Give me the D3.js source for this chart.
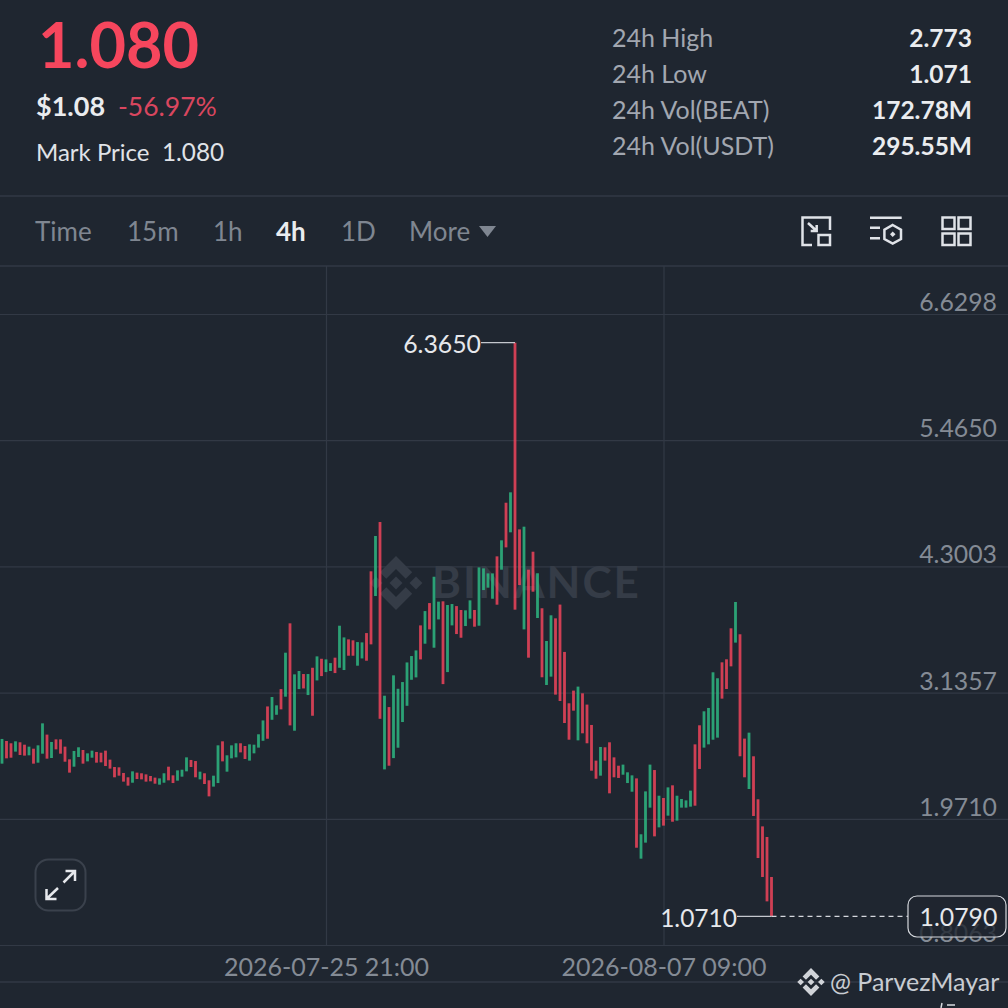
<!DOCTYPE html>
<html>
<head>
<meta charset="utf-8">
<script src="https://cdn.jsdelivr.net/npm/d3@7"></script>
<style>
  html, body { margin: 0; padding: 0; background: #1f2630; }
  svg { display: block; }
  text { font-family: Lato, "Open Sans", sans-serif; }
</style>
</head>
<body>
<div id="chart"></div>
<script>
// candle highs, lows and direction (4h candles, left to right)
var highs = [
  2.708, 2.689, 2.668, 2.686, 2.677, 2.655, 2.637, 2.618, 2.649, 2.852,
  2.748, 2.680, 2.704, 2.704, 2.637, 2.520, 2.597, 2.631, 2.606, 2.575,
  2.600, 2.588, 2.581, 2.600, 2.517, 2.449, 2.446, 2.394, 2.354, 2.409,
  2.397, 2.391, 2.381, 2.366, 2.351, 2.344, 2.391, 2.452, 2.372, 2.418,
  2.424, 2.538, 2.514, 2.504, 2.406, 2.391, 2.326, 2.369, 2.649, 2.686,
  2.557, 2.649, 2.668, 2.668, 2.643, 2.658, 2.655, 2.751, 2.879, 3.008,
  3.095, 3.018, 3.168, 3.504, 3.775, 3.304, 3.335, 3.307, 3.307, 3.365,
  3.470, 3.448, 3.442, 3.408, 3.458, 3.753, 3.645, 3.627, 3.618, 3.602,
  3.599, 3.685, 4.255, 4.581, 4.710, 3.107, 3.002, 3.295, 3.171, 3.233,
  3.414, 3.473, 3.525, 3.756, 3.888, 3.962, 4.205, 3.975, 3.978, 3.944,
  3.953, 3.934, 3.898, 3.895, 3.987, 3.898, 4.291, 4.282, 4.236, 4.236,
  4.393, 4.541, 4.888, 4.984, 6.365, 4.642, 4.667, 4.270, 4.436, 4.237,
  3.914, 3.612, 3.849, 3.821, 3.948, 3.511, 3.037, 3.154, 3.191, 3.129,
  3.025, 2.837, 2.508, 2.634, 2.631, 2.677, 2.538, 2.461, 2.471, 2.400,
  2.372, 2.344, 1.828, 2.224, 2.471, 2.421, 2.184, 2.163, 2.261, 2.280,
  2.184, 2.154, 2.141, 2.231, 2.658, 2.834, 2.963, 2.994, 3.323, 3.268,
  3.415, 3.443, 3.729, 3.972, 3.674, 2.711, 2.766, 2.548, 2.151, 1.901,
  1.803, 1.434
];
var lows = [
  2.480, 2.529, 2.535, 2.591, 2.560, 2.554, 2.557, 2.480, 2.489, 2.572,
  2.526, 2.532, 2.612, 2.572, 2.498, 2.397, 2.452, 2.541, 2.480, 2.501,
  2.535, 2.489, 2.492, 2.458, 2.434, 2.354, 2.369, 2.314, 2.277, 2.304,
  2.338, 2.335, 2.314, 2.317, 2.295, 2.286, 2.304, 2.326, 2.301, 2.323,
  2.360, 2.409, 2.449, 2.354, 2.335, 2.292, 2.178, 2.268, 2.301, 2.501,
  2.406, 2.529, 2.538, 2.584, 2.523, 2.508, 2.575, 2.628, 2.691, 2.710,
  2.885, 2.931, 2.981, 3.098, 2.833, 2.784, 3.168, 3.174, 3.113, 2.922,
  3.248, 3.288, 3.325, 3.335, 3.316, 3.365, 3.344, 3.476, 3.476, 3.384,
  3.451, 3.430, 3.581, 4.027, 2.894, 2.427, 2.461, 2.531, 2.627, 2.864,
  3.014, 3.254, 3.276, 3.442, 3.587, 3.719, 3.550, 3.811, 3.214, 3.325,
  3.756, 3.676, 3.642, 3.750, 3.818, 3.744, 3.753, 4.082, 4.104, 4.002,
  3.947, 4.270, 4.476, 4.615, 3.901, 4.128, 3.719, 3.458, 4.067, 3.824,
  3.277, 3.206, 3.283, 3.117, 3.058, 2.855, 2.701, 2.969, 2.695, 2.760,
  2.668, 2.415, 2.341, 2.369, 2.508, 2.206, 2.354, 2.348, 2.378, 2.301,
  2.221, 1.704, 1.603, 1.751, 2.074, 1.809, 1.892, 1.908, 2.000, 1.944,
  1.954, 2.074, 2.074, 2.083, 2.092, 2.431, 2.628, 2.658, 2.701, 2.720,
  3.080, 3.169, 3.378, 3.597, 2.548, 2.354, 2.246, 1.997, 1.609, 1.434,
  1.209, 1.071
];
var dirs = ("GRRGRRGRGGRGRRRRGGRGGRRRRRRRRGRRRRRGGRRGGGRRGRRGGRGGGRRGGG" +
            "GRGGRGRGGRGRGRGGRGGRRGGRRGRGRGGGGGGRGRGGRGGRRGGRGGGGRGRGRR" +
            "GRRGRGGRRRRRGRRRRGRRRRGGGRGGGRGRGRGGGGRRGGGGRRRGRRGRR").split("");

var yTicks = [6.6298, 5.4650, 4.3003, 3.1357, 1.9710, 0.8063];
var xTickIndex = [72, 147];
var xTickLabels = ["2026-07-25 21:00", "2026-08-07 09:00"];

var statLabels = ["24h High", "24h Low", "24h Vol(BEAT)", "24h Vol(USDT)"];
var statValues = ["2.773", "1.071", "172.78M", "295.55M"];
var tabs = ["Time", "15m", "1h", "4h", "1D", "More"];
var tabX = [35, 127, 213, 276, 341, 409];

var highIndex = 114, lowIndex = 171;
var highPrice = 6.3650, lowPrice = 1.0710, lastPrice = 1.0790;

var bg = "#1f2630", lineColor = "#323945", up = "#2ebd85", down = "#f6465d";

var svg = d3.select("#chart").append("svg")
  .attr("width", 1008)
  .attr("height", 1008);

var x = d3.scaleLinear().domain([0, 171]).range([2, 771.5]);
var y = d3.scaleLinear().domain([0.8063, 6.6298]).range([945, 314]);

// header separators
[196, 266, 982].forEach(function(v) {
  svg.append("line").attr("x1", 0).attr("x2", 1008).attr("y1", v).attr("y2", v)
    .attr("stroke", lineColor).attr("stroke-width", 1.5);
});

// price and time grid via the axes
var yAxis = d3.axisLeft(y).tickValues(yTicks).tickSize(1008)
  .tickFormat(d3.format(".4f"));
var gy = svg.append("g").attr("transform", "translate(1008,0)").call(yAxis);
gy.select(".domain").remove();
gy.selectAll(".tick line").attr("stroke", lineColor).attr("stroke-width", 1.2);
gy.selectAll(".tick text")
  .attr("x", -11).attr("dy", 0)
  .attr("fill", "#848b95").attr("font-size", 24.8)
  .style("font-family", "Lato")
  .attr("y", -3.5);

var xAxis = d3.axisBottom(x).tickValues(xTickIndex).tickSize(-679)
  .tickFormat(function(d, i) { return xTickLabels[i]; });
var gx = svg.append("g").attr("transform", "translate(0,945)").call(xAxis);
gx.select(".domain").remove();
gx.selectAll(".tick line").attr("stroke", lineColor).attr("stroke-width", 1.2);
gx.selectAll(".tick text")
  .attr("y", 31).attr("dy", 0)
  .attr("fill", "#848b95").attr("font-size", 25)
  .style("font-family", "Lato");

// binance mark
function logo(parent, cx, cy, r, color) {
  var g = parent.append("g").attr("transform", "translate(" + cx + "," + cy + ") scale(" + r + ")")
    .attr("fill", color);
  g.append("path").attr("d", "M0,-1 L.6,-.4 L.36,-.16 L0,-.52 L-.36,-.16 L-.6,-.4Z");
  g.append("path").attr("d", "M0,1 L.6,.4 L.36,.16 L0,.52 L-.36,.16 L-.6,.4Z");
  g.append("path").attr("d", "M0,-.24 L.24,0 L0,.24 L-.24,0Z");
  g.append("path").attr("d", "M.74,-.24 L.98,0 L.74,.24 L.5,0Z");
  g.append("path").attr("d", "M-.74,-.24 L-.5,0 L-.74,.24 L-.98,0Z");
}
logo(svg, 396, 583, 27, "#353c47");
svg.append("text").attr("x", 432).attr("y", 598).attr("fill", "#353c47")
  .attr("font-size", 44).attr("font-weight", 700).attr("letter-spacing", 2).text("BINANCE");

// candles
svg.append("g").selectAll("rect")
  .data(highs)
  .join("rect")
    .attr("x", function(d, i) { return x(i) - 1.4; })
    .attr("y", function(d) { return y(d); })
    .attr("width", 2.8)
    .attr("height", function(d, i) { return y(lows[i]) - y(d); })
    .attr("fill", function(d, i) { return dirs[i] == "G" ? up : down; })
    .attr("opacity", 0.82);

// high / low callouts
svg.append("line").attr("x1", 481).attr("x2", x(highIndex)).attr("y1", y(highPrice)).attr("y2", y(highPrice))
  .attr("stroke", "#c4c8ce").attr("stroke-width", 1.2);
svg.append("text").attr("x", 481).attr("y", y(highPrice) + 10).attr("text-anchor", "end")
  .attr("fill", "#e6e8ec").attr("font-size", 24.8).text(highPrice.toFixed(4));
svg.append("line").attr("x1", 737).attr("x2", x(lowIndex)).attr("y1", y(lowPrice)).attr("y2", y(lowPrice))
  .attr("stroke", "#c4c8ce").attr("stroke-width", 1.2);
svg.append("text").attr("x", 737).attr("y", y(lowPrice) + 10.5).attr("text-anchor", "end")
  .attr("fill", "#e6e8ec").attr("font-size", 24.5).text(lowPrice.toFixed(4));

// last price line and box
svg.append("line").attr("x1", x(lowIndex)).attr("x2", 908).attr("y1", y(lowPrice)).attr("y2", y(lowPrice))
  .attr("stroke", "#d5d8dd").attr("stroke-width", 1.2).attr("stroke-dasharray", "5,4");
svg.append("rect").attr("x", 908).attr("y", 896).attr("width", 98).attr("height", 41).attr("rx", 9)
  .attr("fill", bg).attr("fill-opacity", 0.8).attr("stroke", "#d5d8dd").attr("stroke-width", 1.2);
svg.append("text").attr("x", 958.5).attr("y", 926).attr("text-anchor", "middle")
  .attr("fill", "#e6e8ec").attr("font-size", 24.8).text(lastPrice.toFixed(4));

// header prices
svg.append("text").attr("x", 38).attr("y", 68).attr("fill", "#f6465d")
  .attr("font-size", 63).attr("font-weight", 700).text("1.080");
svg.append("text").attr("x", 36).attr("y", 116).attr("fill", "#eaecef")
  .attr("font-size", 27).attr("font-weight", 700).text("$1.08");
svg.append("text").attr("x", 118).attr("y", 116).attr("fill", "#d9465f")
  .attr("font-size", 26.5).text("-56.97%");
svg.append("text").attr("x", 36).attr("y", 161).attr("fill", "#e0e3e8")
  .attr("font-size", 24).text("Mark Price");
svg.append("text").attr("x", 162).attr("y", 161).attr("fill", "#e0e3e8")
  .attr("font-size", 24.3).text("1.080");

// 24h stats
statLabels.forEach(function(d, i) {
  svg.append("text").attr("x", 612).attr("y", 47 + i * 36).attr("fill", "#a2a7b0")
    .attr("font-size", 25).text(d);
  svg.append("text").attr("x", 972).attr("y", 47 + i * 36).attr("text-anchor", "end")
    .attr("fill", "#eaecef").attr("font-size", 24.5).attr("font-weight", 700).text(statValues[i]);
});

// interval tabs
tabs.forEach(function(d, i) {
  svg.append("text").attr("x", tabX[i]).attr("y", 241)
    .attr("fill", d == "4h" ? "#eaecef" : "#7f8691")
    .attr("font-size", 26).attr("font-weight", d == "4h" ? 700 : 400).text(d);
});
svg.append("path").attr("d", "M479,226 L496,226 L487.5,237Z").attr("fill", "#7f8691");

// toolbar icons
var icons = svg.append("g").attr("fill", "none").attr("stroke", "#e0e3e8").attr("stroke-width", 2.5);
icons.append("path").attr("d", "M812,245 L802.5,245 L802.5,217.5 L830,217.5 L830,230");
icons.append("rect").attr("x", 818.5).attr("y", 235).attr("width", 11.5).attr("height", 10);
icons.append("path").attr("d", "M808,223 L816.7,231 M816.7,225 L816.7,231 L810.7,231");
icons.append("path").attr("d", "M870,217.7 L901.7,217.7 M870,227.7 L880,227.7 M870,238.3 L880,238.3");
icons.append("path").attr("d", "M892.7,225 L901,229.7 L901,239 L892.7,243.5 L884.4,239 L884.4,229.7Z");
svg.append("path").attr("d", "M892.7,231.5 L895.5,234.3 L892.7,237 L890,234.3Z").attr("fill", "#e0e3e8");
[942.5, 958.5].forEach(function(ix) {
  [217.5, 233.5].forEach(function(iy) {
    icons.append("rect").attr("x", ix).attr("y", iy).attr("width", 12).attr("height", 11.5);
  });
});

// expand button
svg.append("rect").attr("x", 35.5).attr("y", 859.5).attr("width", 50).attr("height", 51).attr("rx", 13)
  .attr("fill", "none").attr("stroke", "#3a414c").attr("stroke-width", 2);
svg.append("path").attr("d", "M63.5,882.5 L75,871 M65.5,871 L75,871 L75,881 M58,888 L46.5,899 M46.5,889 L46.5,899 L56.5,899")
  .attr("fill", "none").attr("stroke", "#e6e8ec").attr("stroke-width", 2.5);

// share tag
logo(svg, 811, 982, 14, "#d0d3d8");
svg.append("text").attr("x", 830).attr("y", 991).attr("fill", "#c8ccd2")
  .attr("font-size", 25).text("@ ParvezMayar");
svg.append("path").attr("d", "M942,1003 L941,1008 M947,1005 L955,1005").attr("stroke", "#d8dbe0").attr("stroke-width", 1.5);
</script>
</body>
</html>
